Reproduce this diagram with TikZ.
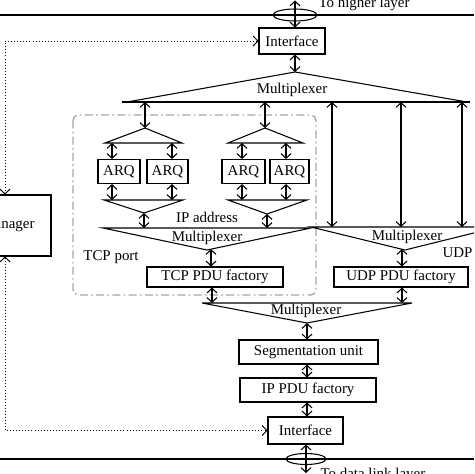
\documentclass[tikz,border=0pt]{standalone}
\usepackage{fontspec}
\setmainfont{Liberation Serif}
\usetikzlibrary{arrows.meta}
\begin{document}
\begin{tikzpicture}[x=0.75pt,y=-0.75pt,line width=0.8pt,
  txt/.style={font=\fontsize{11.2}{13}\selectfont},
  box/.style={draw,rectangle,inner sep=0pt,txt},
  lbl/.style={inner sep=0pt,txt},
  tip/.tip={Straight Barb[length=3.5pt,width=7.5pt]},
  dbl/.style={tip-tip},
  dotline/.style={line width=0.7pt,dash pattern=on 0.7pt off 1.6pt,tip-tip},
  portbox/.style={draw=gray!70,line width=1pt,rounded corners=4pt,dash pattern=on 6pt off 2.5pt on 1.2pt off 2.5pt}]
\useasboundingbox (0,0) rectangle (474,474);
\clip (0,0) rectangle (474,474);

% upper and lower layer lines with ellipses
\draw (0,15) -- (474,15);
\draw (295,15) ellipse [x radius=22, y radius=6];
\draw (0,459) -- (474,459);
\draw (306,459) ellipse [x radius=20, y radius=5.5];
\coordinate (topend) at (295,0.5);
\coordinate (botend) at (306,473);
\node[lbl,anchor=base west] (thl) at (318,8) {To higher layer};
\node[lbl,anchor=base west] (tdl) at (320,478) {To data link layer};

% boxes
\node[box,minimum width=49.5pt,minimum height=19.5pt] (iftop) at (292,41) {Interface};
\node[box,minimum width=64.5pt,minimum height=45.75pt] (mgr) at (8,225.5) {Manager};
\node[box,minimum width=31.5pt,minimum height=18pt] (arq1) at (119,171.5) {ARQ};
\node[box,minimum width=30.75pt,minimum height=18pt] (arq2) at (167.5,171.5) {ARQ};
\node[box,minimum width=32.25pt,minimum height=18pt] (arq3) at (243.5,171.5) {ARQ};
\node[box,minimum width=29.25pt,minimum height=18pt] (arq4) at (289.5,171.5) {ARQ};
\node[box,minimum width=102pt,minimum height=15pt] (tcppdu) at (215,277) {TCP PDU factory};
\node[box,minimum width=100.5pt,minimum height=15pt] (udppdu) at (401,277) {UDP PDU factory};
\node[box,minimum width=104.25pt,minimum height=18pt] (seg) at (308.5,352) {Segmentation unit};
\node[box,minimum width=102pt,minimum height=18pt] (ippdu) at (308,390) {IP PDU factory};
\node[box,minimum width=56.25pt,minimum height=20.25pt] (ifbot) at (305.5,430.5) {Interface};

% TCP port region
\draw[portbox] (73,115) rectangle (316,295);
\node[lbl] (tcpport) at (111,257) {TCP port};

% top multiplexer
\coordinate (mA) at (295,72);
\draw (122,102) -- (470,102);
\draw (127,102) -- (mA) -- (467,102);
\node[lbl] (mAl) at (292,90) {Multiplexer};

% branch A
\coordinate (bA) at (145,128);
\draw (105,143) -- (bA) -- (182,143) -- cycle;
\coordinate (cA) at (144,213);
\draw (104,200) -- (183,200) -- (cA) -- cycle;
% branch B
\coordinate (bB) at (265,128);
\draw (228,143) -- (bB) -- (303,143) -- cycle;
\coordinate (cB) at (267,214);
\draw (228,200) -- (307,200) -- (cB) -- cycle;
\node[lbl] (ipa) at (207,217) {IP address};

% TCP multiplexer
\coordinate (mT) at (207,250);
\draw (103,228) -- (311,228) -- (mT) -- cycle;
\node[lbl] (mTl) at (207,238) {Multiplexer};

% UDP multiplexer
\coordinate (mU) at (405,250);
\draw (311,227) -- (498,227) -- (mU) -- cycle;
\node[lbl] (mUl) at (407,237) {Multiplexer};
\node[lbl,anchor=west] (udp) at (442,253) {UDP};

% lower multiplexer
\coordinate (mL) at (307,323);
\draw (202,303) -- (412,303) -- (mL) -- cycle;
\node[lbl] (mLl) at (306,311) {Multiplexer};

% connectors
\draw[dbl] (topend) -- (iftop.north -| topend);
\draw[dbl] (iftop.south -| mA) -- (mA);
\draw[dbl] (145,102) -- (bA);
\draw[dbl] (265,102) -- (bB);
\draw[dbl] (332,102) -- (332,227);
\draw[dbl] (401,102) -- (401,227);
\draw[dbl] (462,102) -- (462,227);
\draw[dbl] (112,143) -- (arq1.north -| 112,0);
\draw[dbl] (172,143) -- (arq2.north -| 172,0);
\draw[dbl] (242,143) -- (arq3.north -| 242,0);
\draw[dbl] (286,143) -- (arq4.north -| 286,0);
\draw[dbl] (arq1.south -| 112,0) -- (112,200);
\draw[dbl] (arq2.south -| 172,0) -- (172,200);
\draw[dbl] (arq3.south -| 242,0) -- (242,200);
\draw[dbl] (arq4.south -| 286,0) -- (286,200);
\draw[dbl] (cA) -- (144,228);
\draw[dbl] (cB) -- (267,228);
\draw[dbl] (211,249) -- (tcppdu.north -| 211,0);
\draw[dbl] (tcppdu.south -| 212,0) -- (212,303);
\draw[dbl] (402,249) -- (udppdu.north -| 402,0);
\draw[dbl] (udppdu.south -| 402,0) -- (402,303);
\draw[dbl] (mL) -- (seg.north -| mL);
\draw[dbl] (seg.south -| mL) -- (ippdu.north -| mL);
\draw[dbl] (ippdu.south -| mL) -- (ifbot.north -| mL);
\draw[dbl] (ifbot.south -| botend) -- (botend);

% manager dotted links
\draw[dotline] (iftop.west) -| (mgr.north -| 5,0);
\draw[dotline] (mgr.south -| 5,0) |- (ifbot.west);
\end{tikzpicture}
\end{document}
